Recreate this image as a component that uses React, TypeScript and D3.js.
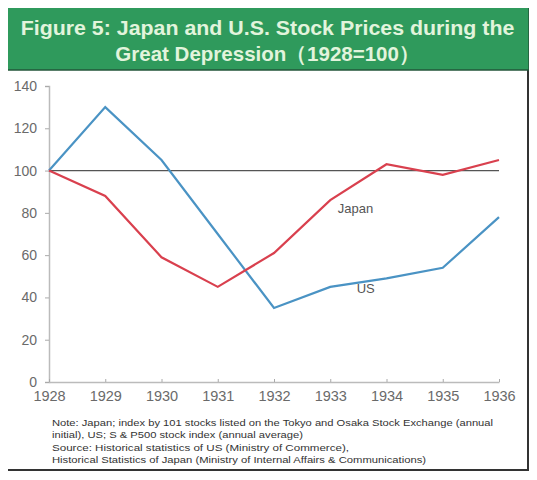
import React, { useEffect, useRef } from 'react';
import * as d3 from 'd3';

const years = [1928, 1929, 1930, 1931, 1932, 1933, 1934, 1935, 1936];
const japan = [100, 88, 59, 45, 61, 86, 103, 98, 105];
const us = [100, 130, 105, 70, 35, 45, 49, 54, 78];
const yTicks = [0, 20, 40, 60, 80, 100, 120, 140];
const titleLines = [
  'Figure 5: Japan and U.S. Stock Prices during the',
  'Great Depression\uFF081928=100\uFF09',
];
const titleWidths = [494, 304];
const noteLines = [
  'Note: Japan; index by 101 stocks listed on the Tokyo and Osaka Stock Exchange (annual',
  'initial), US; S & P500 stock index (annual average)',
  'Source: Historical statistics of US (Ministry of Commerce),',
  'Historical  Statistics of Japan (Ministry of Internal Affairs & Communications)',
];
const noteWidths = [441, 251, 297, 374];

const W = 537;
const H = 480;

const App: React.FC = () => {
  const svgRef = useRef<SVGSVGElement>(null);

  useEffect(() => {
    if (!svgRef.current) return;
    const svg = d3.select(svgRef.current);
    svg.selectAll('*').remove();

    // outer frame
    svg.append('rect')
      .attr('x', 7).attr('y', 4).attr('width', 521).attr('height', 466)
      .attr('fill', '#fff').attr('stroke', '#333').attr('stroke-width', 2);

    // green title band
    svg.append('rect')
      .attr('x', 6).attr('y', 3).attr('width', 523).attr('height', 67)
      .attr('fill', '#2f9a5c').attr('stroke', '#23563a').attr('stroke-width', 1.5);

    // title lines: squeeze each one horizontally to its width
    titleLines.forEach((t, i) => {
      const g = svg.append('g');
      const txt = g.append('text')
        .attr('x', 0)
        .attr('y', 0)
        .attr('text-anchor', 'middle')
        .attr('font-family', '"Liberation Sans", Arial, sans-serif')
        .attr('font-weight', 'bold')
        .attr('font-size', 21)
        .attr('fill', '#e2f4dc')
        .text(t);
      const natural = (txt.node() as SVGTextElement).getComputedTextLength() || titleWidths[i];
      const sx = titleWidths[i] / natural;
      g.attr('transform', `translate(${W / 2 - 1},${35 + i * 26}) scale(${sx},1)`);
    });

    const x = d3.scaleLinear().domain([1928, 1936]).range([49, 499]);
    const y = d3.scaleLinear().domain([0, 140]).range([382, 86]);

    const font = '"Liberation Sans", Arial, sans-serif';

    // y axis
    const yAxis = svg.append('g')
      .attr('transform', `translate(${x(1928)},0)`)
      .call(d3.axisLeft(y).tickValues(yTicks).tickSize(4).tickPadding(8));
    yAxis.select('.domain').attr('stroke', '#bbb').attr('stroke-width', 1.5);
    yAxis.selectAll('.tick line').attr('stroke', '#aaa');
    yAxis.selectAll('.tick text')
      .attr('font-family', font).attr('font-size', 14).attr('fill', '#6a6a6a');

    // x axis
    const xAxis = svg.append('g')
      .attr('transform', `translate(0,${y(0)})`)
      .call(d3.axisBottom(x).tickValues(years).tickFormat(d3.format('d')).tickSize(-3).tickPadding(9).tickSizeOuter(0));
    xAxis.select('.domain').attr('stroke', '#bbb').attr('stroke-width', 1.5);
    xAxis.selectAll('.tick line').attr('stroke', '#aaa');
    xAxis.selectAll('.tick text')
      .attr('font-family', font).attr('font-size', 14.5).attr('fill', '#6a6a6a');

    // 1928 = 100 reference line
    svg.append('line')
      .attr('x1', x(1928)).attr('x2', x(1936))
      .attr('y1', y(100)).attr('y2', y(100))
      .attr('stroke', '#555').attr('stroke-width', 1.3);

    const line = d3.line<number>()
      .x((d, i) => x(years[i]))
      .y(d => y(d));

    svg.append('path')
      .datum(us)
      .attr('d', line)
      .attr('fill', 'none')
      .attr('stroke', '#4a93c4')
      .attr('stroke-width', 2.2);

    svg.append('path')
      .datum(japan)
      .attr('d', line)
      .attr('fill', 'none')
      .attr('stroke', '#d9404e')
      .attr('stroke-width', 2.2);

    svg.append('text')
      .attr('x', x(1933.45)).attr('y', y(80))
      .attr('text-anchor', 'middle')
      .attr('font-family', font).attr('font-size', 13).attr('fill', '#555')
      .text('Japan');

    svg.append('text')
      .attr('x', x(1933.63)).attr('y', y(42))
      .attr('text-anchor', 'middle')
      .attr('font-family', font).attr('font-size', 13).attr('fill', '#555')
      .text('US');

    // notes
    svg.selectAll('.note')
      .data(noteLines)
      .enter()
      .append('text')
      .attr('x', 52)
      .attr('y', (d, i) => 425.5 + i * 12.6)
      .attr('font-family', font)
      .attr('font-size', 9.5)
      .attr('fill', '#333')
      .attr('textLength', (d, i) => noteWidths[i])
      .attr('lengthAdjust', 'spacingAndGlyphs')
      .text(d => d);
  }, []);

  return (
    <svg ref={svgRef} width={W} height={H} style={{ display: 'block', margin: '-8px' }} />
  );
};

export default App;
